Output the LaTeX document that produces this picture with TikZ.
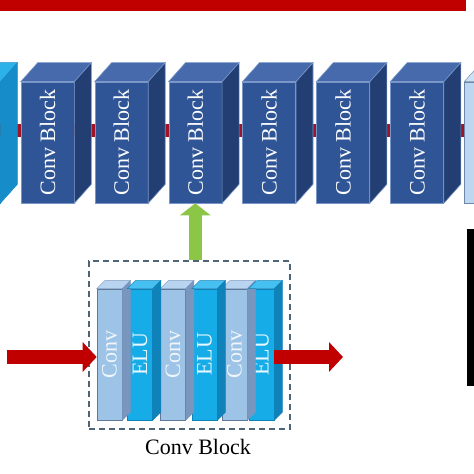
\documentclass[tikz,border=0pt]{standalone}
\usepackage{fontspec}
\setmainfont{Liberation Serif}
\usetikzlibrary{arrows.meta,positioning,calc}

\definecolor{barred}{RGB}{192,0,0}
\definecolor{linkred}{RGB}{160,20,40}
\definecolor{arrred}{RGB}{192,0,0}
\definecolor{blkfront}{RGB}{47,85,151}
\definecolor{blktop}{RGB}{70,106,172}
\definecolor{blkside}{RGB}{34,62,115}
\definecolor{blkedge}{RGB}{120,150,200}
\definecolor{cyanfront}{RGB}{30,160,220}
\definecolor{cyanside}{RGB}{22,140,200}
\definecolor{cyantop}{RGB}{45,178,232}
\definecolor{palefront}{RGB}{190,215,240}
\definecolor{paletop}{RGB}{205,225,245}
\definecolor{paleedge}{RGB}{110,135,170}
\definecolor{convfront}{RGB}{157,195,230}
\definecolor{convtop}{RGB}{185,212,240}
\definecolor{convside}{RGB}{120,150,190}
\definecolor{elufront}{RGB}{22,172,232}
\definecolor{elutop}{RGB}{70,192,240}
\definecolor{eluside}{RGB}{15,130,185}
\definecolor{boxgray}{RGB}{80,100,120}
\definecolor{upgreen}{RGB}{140,198,70}

% top and side face of a box drawn on a front node
\newcommand{\prismfaces}[5]{%
  \filldraw[#2] (#1.north west) -- ++(#4,#5) -- ($(#1.north east)+(#4,#5)$) -- (#1.north east) -- cycle;
  \filldraw[#3] (#1.north east) -- ($(#1.north east)+(#4,#5)$) -- ($(#1.south east)+(#4,#5)$) -- (#1.south east) -- cycle;
}

\begin{document}
\begin{tikzpicture}[x=1pt, y=1pt,
    bigfont/.style={font=\fontsize{22}{24}\selectfont},
    bigblock/.style={draw=blkedge, line width=0.6pt, fill=blkfront, minimum width=53pt,
      minimum height=121pt, inner sep=0pt, text=white, bigfont},
    layer/.style={draw=convside!80!black, line width=0.6pt, minimum width=25pt,
      minimum height=131pt, inner sep=0pt, text=white, bigfont},
    convlayer/.style={layer, fill=convfront, text=white!85!convfront},
    elulayer/.style={layer, draw=eluside, fill=elufront, text=white!90!elufront},
    link/.style={linkred, line width=13pt},
    fatred/.style={arrred, line width=14pt, -{Triangle[length=14pt, width=29pt]}},
    fatgreen/.style={upgreen, line width=13pt, -{Triangle[length=12pt, width=30pt]}}]

    \clip (0,0) rectangle (474,474);
    \useasboundingbox (0,0) rectangle (474,474);

    % red bar along the top
    \fill[barred] (0,463) rectangle (466,474);

    % chain of blocks
    \node[bigblock, fill=cyanfront, draw=cyanside] (blk0) at (-26.4,331.5) {};
    \foreach \i in {1,...,6}
        \node[bigblock] (blk\i) at ({47.5+73.9*(\i-1)},331.5) {\rotatebox{90}{Conv Block}};
    \node[bigblock, fill=palefront, draw=paleedge] (blk7) at (491,331.5) {};

    \foreach \i [evaluate=\i as \j using int(\i+1)] in {0,...,6}
        \draw[link] ($(blk\i.east)+(0,11.5)$) -- ($(blk\j.west)+(0,11.5)$);

    \prismfaces{blk0}{draw=cyanside, fill=cyantop}{draw=cyanside, fill=cyanside}{17}{19}
    \foreach \i in {1,...,6}{
        \prismfaces{blk\i}{draw=blkedge, line width=0.6pt, fill=blktop}{draw=blkedge, line width=0.6pt, fill=blkside}{17}{19}
    }
    \prismfaces{blk7}{draw=paleedge, fill=paletop}{draw=paleedge, fill=palefront}{17}{19}

    % inside of one conv block
    \node[draw=boxgray, line width=1.6pt, dash pattern=on 6pt off 4pt,
          minimum width=201pt, minimum height=168pt, inner sep=0pt] (box) at (189.5,129) {};

    \node[convlayer] (conv1) at (109.5,119.5) {\rotatebox{90}{Conv}};
    \node[elulayer]  (elu1)  at (140,119.5)   {\rotatebox{90}{ELU}};
    \node[convlayer] (conv2) at (173,119.5)   {\rotatebox{90}{Conv}};
    \node[elulayer]  (elu2)  at (204.5,119.5) {\rotatebox{90}{ELU}};
    \node[convlayer] (conv3) at (234.5,119.5) {\rotatebox{90}{Conv}};
    \node[elulayer]  (elu3)  at (261.5,119.5) {\rotatebox{90}{ELU}};

    \foreach \n in {conv1,conv2,conv3}{
        \prismfaces{\n}{draw=convside, fill=convtop}{draw=convside, fill=convside}{8}{8}
    }
    \foreach \n in {elu1,elu2,elu3}{
        \prismfaces{\n}{draw=eluside, fill=elutop}{draw=eluside, fill=eluside}{8}{8}
    }

    \node[bigfont, inner sep=0pt, anchor=north] (cap) at ([xshift=8.5pt, yshift=-9pt]box.south) {Conv Block};

    % arrows
    \coordinate (in) at (7,117);
    \coordinate (out) at (343,117);
    \draw[fatred] (in) -- (in -| conv1.west);
    \draw[fatred] (elu3.east |- out) -- (out);
    \draw[fatgreen] (box.north -| blk3.south) -- (blk3.south);

    % black edge on the right
    \fill[black] (467,88) rectangle (474,245);
\end{tikzpicture}
\end{document}
